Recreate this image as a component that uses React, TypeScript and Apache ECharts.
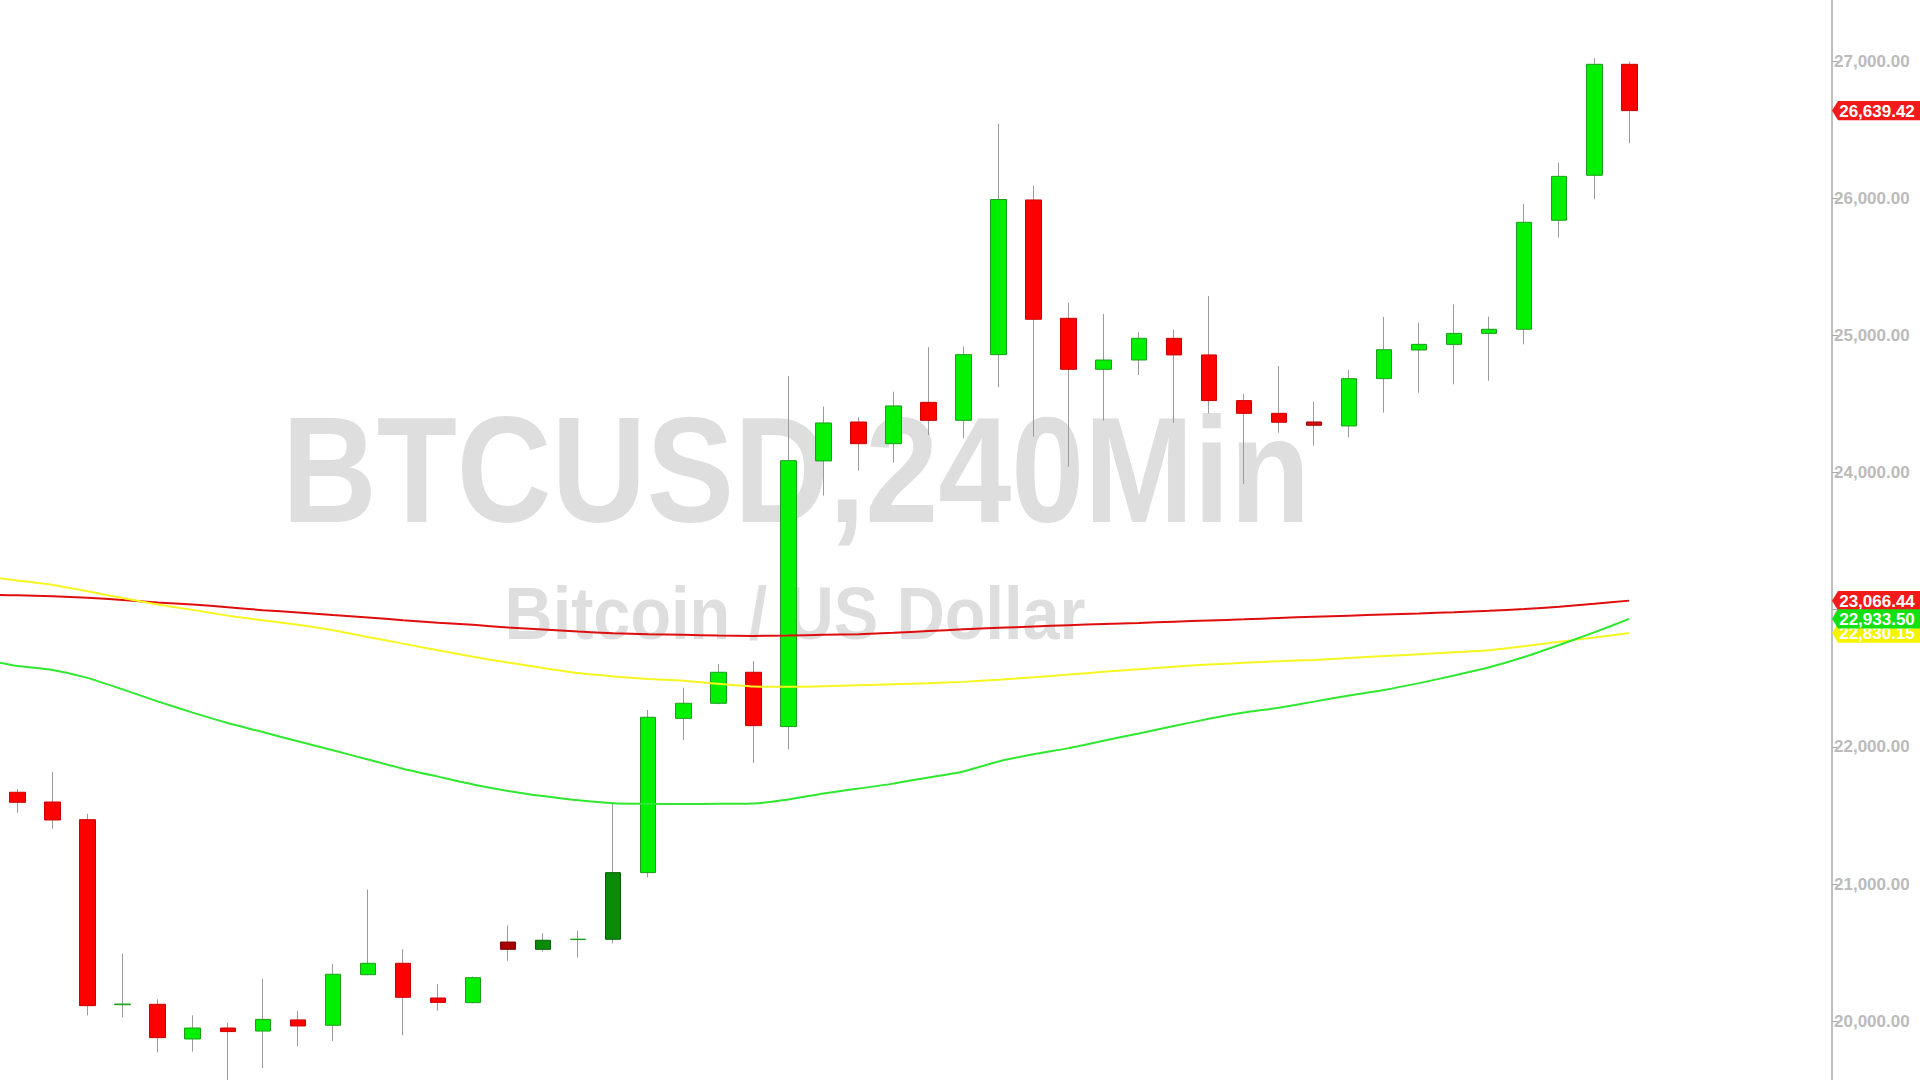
import React, { useEffect, useRef } from "react";
import * as echarts from "echarts";

// [open, close, low, high] per 240-minute candle
const candles: [number, number, number, number][] = [
  [21669, 21596, 21520, 21693],
  [21598, 21467, 21404, 21817],
  [21469, 20113, 20043, 21511],
  [20120, 20125, 20026, 20490],
  [20123, 19880, 19773, 20159],
  [19870, 19950, 19778, 20043],
  [19950, 19924, 19550, 19989],
  [19928, 20013, 19656, 20308],
  [20009, 19965, 19819, 20074],
  [19970, 20342, 19855, 20417],
  [20339, 20422, 20335, 20961],
  [20422, 20174, 19897, 20524],
  [20169, 20137, 20077, 20271],
  [20135, 20317, 20130, 20325],
  [20577, 20524, 20441, 20699],
  [20524, 20590, 20507, 20641],
  [20595, 20598, 20463, 20660],
  [20597, 21083, 20568, 21596],
  [21083, 22216, 21049, 22269],
  [22208, 22318, 22050, 22432],
  [22318, 22544, 22310, 22604],
  [22544, 22155, 21883, 22626],
  [22148, 24087, 21982, 24705],
  [24085, 24362, 23832, 24481],
  [24369, 24211, 24014, 24403],
  [24211, 24486, 24073, 24590],
  [24512, 24381, 24274, 24914],
  [24381, 24860, 24250, 24920],
  [24860, 25991, 24622, 26544],
  [25988, 25118, 24262, 26090],
  [25125, 24753, 24043, 25239],
  [24753, 24821, 24379, 25157],
  [24821, 24979, 24712, 25023],
  [24979, 24858, 24364, 25040],
  [24858, 24525, 24432, 25288],
  [24525, 24432, 23917, 24573],
  [24432, 24367, 24291, 24777],
  [24369, 24345, 24196, 24515],
  [24340, 24685, 24257, 24748],
  [24685, 24896, 24437, 25135],
  [24894, 24935, 24583, 25093],
  [24935, 25015, 24644, 25227],
  [25015, 25045, 24670, 25137],
  [25045, 25825, 24935, 25959],
  [25840, 26160, 25713, 26260],
  [26168, 26977, 25993, 27021],
  [26977, 26639.42, 26401, 26996],
];

// moving averages: first value sits at the chart's left edge (slot -0.5), then one per candle
const maSlow = [
  23108, 23105, 23098, 23088, 23071, 23052, 23038, 23018, 22997, 22980, 22961,
  22943, 22924, 22906, 22890, 22871, 22856, 22841, 22829, 22822, 22817, 22812,
  22809, 22812, 22817, 22822, 22832, 22845, 22857, 22868, 22878, 22887, 22896,
  22904, 22913, 22922, 22930, 22940, 22949, 22957, 22965, 22973, 22982, 22992,
  23005, 23022, 23043, 23066.44,
];
const maMid = [
  23229, 23213, 23181, 23135, 23085, 23038, 22999, 22957, 22923, 22890, 22851,
  22801, 22753, 22704, 22657, 22615, 22575, 22538, 22514, 22495, 22482, 22460,
  22440, 22438, 22443, 22450, 22457, 22464, 22474, 22490, 22508, 22527, 22547,
  22566, 22585, 22600, 22613, 22625, 22634, 22648, 22662, 22676, 22690, 22705,
  22733, 22767, 22797, 22830.15,
];
const maFast = [
  22614, 22590, 22560, 22503, 22419, 22332, 22250, 22174, 22108, 22041, 21975,
  21908, 21841, 21783, 21726, 21679, 21641, 21610, 21589, 21585, 21584, 21585,
  21587, 21616, 21660, 21696, 21732, 21777, 21821, 21893, 21946, 21991, 22045,
  22098, 22152, 22205, 22250, 22286, 22330, 22375, 22415, 22465, 22520, 22580,
  22655, 22743, 22835, 22933.5,
];

const yTicks = [20000, 21000, 22000, 23000, 24000, 25000, 26000, 27000];
const yMin = 19571;
const yMax = 27446;
const emptySlots = 5;

const titleText = "BTCUSD,240Min";
const subtitleText = "Bitcoin / US Dollar";

// candles drawn in the darker session tones
const darkUp = [15, 17];
const darkDown = [14];
const deepDown = [37];

const FONT = '"Liberation Sans", Arial, sans-serif';
const GRID_W = 1822;
const AXIS_OFFSET = 10;

const fmt = (v: number) =>
  v.toLocaleString("en-US", { minimumFractionDigits: 2, maximumFractionDigits: 2 });

export default function App() {
  const ref = useRef<HTMLDivElement>(null);
  useEffect(() => {
    document.body.style.margin = "0";
    const chart = echarts.init(ref.current!, undefined, { renderer: "svg" });
    const slotCount = candles.length + emptySlots;
    const categories = Array.from({ length: slotCount }, (_, i) => String(i + 1));
    const maX = [-0.5, ...candles.map((_, i) => i)];

    const bodyData = candles.map(([o, c], i) => {
      const rising = c >= o;
      let fill = rising ? "#00f000" : "#ff0000";
      let border = rising ? "#1c9e1c" : "#c80000";
      if (darkUp.includes(i)) { fill = "#0a8c0a"; border = "#066006"; }
      if (darkDown.includes(i)) { fill = "#a80000"; border = "#7a0000"; }
      if (deepDown.includes(i)) { fill = "#d41010"; border = "#a00000"; }
      return {
        value: [o, c, Math.min(o, c), Math.max(o, c)],
        itemStyle: { color: fill, color0: fill, borderColor: border, borderColor0: border },
      };
    });

    const maSeries = (data: number[], color: string) => ({
      type: "line",
      xAxisIndex: 1,
      yAxisIndex: 0,
      data: data.map((v, i) => [maX[i], v]),
      showSymbol: false,
      smooth: 0.2,
      lineStyle: { color, width: 2 },
      z: 6,
      silent: true,
    });

    chart.setOption({
      animation: false,
      backgroundColor: "#ffffff",
      grid: { left: 0, top: 0, width: GRID_W, height: 1080 },
      xAxis: [
        {
          type: "category",
          data: categories,
          boundaryGap: true,
          show: false,
        },
        {
          type: "value",
          min: -0.5,
          max: slotCount - 0.5,
          show: false,
        },
      ],
      yAxis: {
        type: "value",
        position: "right",
        offset: AXIS_OFFSET,
        min: yMin,
        max: yMax,
        scale: true,
        splitLine: { show: false },
        axisLine: { show: true, onZero: false, lineStyle: { color: "#a9a9a9", width: 1.5 } },
        axisTick: {
          show: true,
          length: 6,
          customValues: yTicks,
          lineStyle: { color: "#a9a9a9", width: 1 },
        },
        axisLabel: {
          customValues: yTicks,
          formatter: (v: number) => fmt(v),
          color: "#bbbbbb",
          fontSize: 17,
          fontWeight: "bold",
          fontFamily: FONT,
          margin: 2,
        },
      },
      series: [
        {
          type: "candlestick",
          name: "wicks",
          data: candles,
          barWidth: 1,
          itemStyle: {
            color: "#9a9a9a",
            color0: "#9a9a9a",
            borderColor: "#9a9a9a",
            borderColor0: "#9a9a9a",
            borderWidth: 1,
          },
          z: 3,
          silent: true,
        },
        {
          type: "candlestick",
          name: "bodies",
          data: bodyData,
          barWidth: 16,
          itemStyle: { borderWidth: 1 },
          z: 4,
          silent: true,
        },
        maSeries(maSlow, "#e00d0d"),
        maSeries(maMid, "#f6f620"),
        maSeries(maFast, "#2fe82f"),
      ],
    });

    const axisX = GRID_W + AXIS_OFFSET;
    const lastClose = candles[candles.length - 1][1];
    const tagDefs = [
      { v: maMid[maMid.length - 1], bg: "#f4f400" },
      { v: maSlow[maSlow.length - 1], bg: "#f21a1a" },
      { v: maFast[maFast.length - 1], bg: "#12e012" },
      { v: lastClose, bg: "#f21a1a" },
    ];
    const tags: any[] = [];
    tagDefs.forEach((t, k) => {
      const y = chart.convertToPixel({ yAxisIndex: 0 }, t.v) as number;
      const h = 9.7;
      tags.push({
        type: "polygon",
        z: 100 + k * 2,
        shape: {
          points: [
            [axisX, y],
            [axisX + 6, y - h],
            [1920, y - h],
            [1920, y + h],
            [axisX + 6, y + h],
          ],
        },
        style: { fill: t.bg },
        silent: true,
      });
      tags.push({
        type: "text",
        z: 101 + k * 2,
        x: 1877,
        y: y + 0.5,
        style: {
          text: fmt(t.v),
          fill: "#ffffff",
          fontSize: 17,
          fontWeight: "bold",
          fontFamily: FONT,
          align: "center",
          verticalAlign: "middle",
        },
        silent: true,
      });
    });

    chart.setOption({
      graphic: [
        {
          type: "text",
          z: 0,
          x: 796,
          y: 470,
          scaleX: 0.875,
          style: {
            text: titleText,
            fill: "#dedede",
            fontSize: 150,
            fontWeight: "bold",
            fontFamily: FONT,
            align: "center",
            verticalAlign: "middle",
          },
          silent: true,
        },
        {
          type: "text",
          z: 0,
          x: 795,
          y: 613,
          scaleX: 0.9,
          style: {
            text: subtitleText,
            fill: "#dedede",
            fontSize: 74,
            fontWeight: "bold",
            fontFamily: FONT,
            align: "center",
            verticalAlign: "middle",
          },
          silent: true,
        },
        ...tags,
      ],
    });

    return () => chart.dispose();
  }, []);

  return (
    <div
      ref={ref}
      style={{ position: "fixed", left: 0, top: 0, width: 1920, height: 1080, background: "#fff" }}
    />
  );
}
